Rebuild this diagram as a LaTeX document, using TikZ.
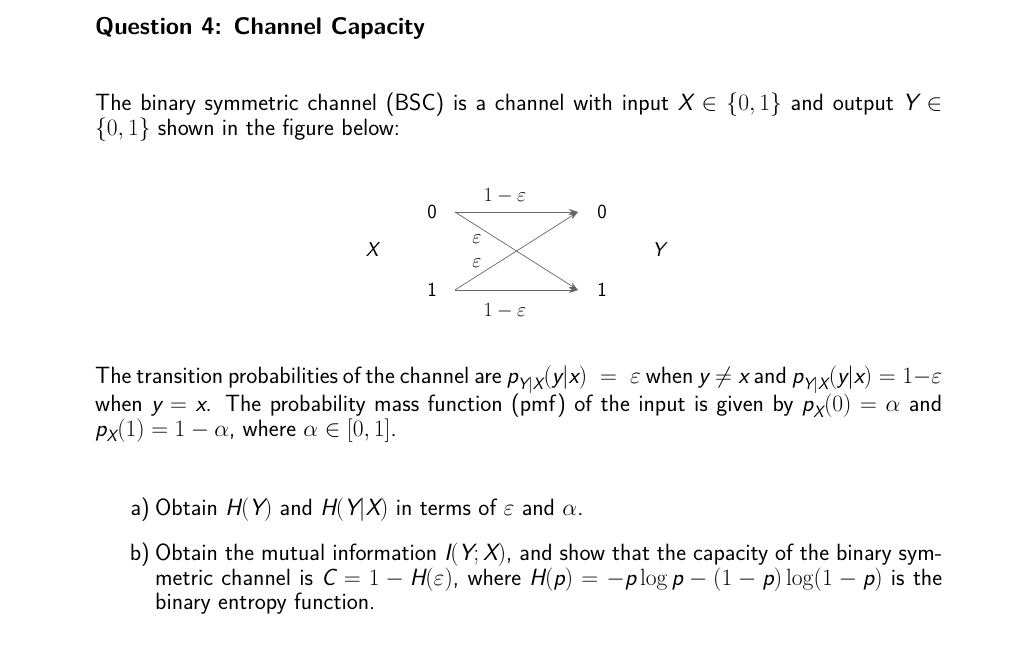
\RequirePackage{fix-cm}
\documentclass[tikz,border=0pt]{standalone}
\usepackage{amsmath}
\usetikzlibrary{arrows.meta}
\newcommand\mi[1]{\textit{#1}}
\begin{document}
\begin{tikzpicture}[x=1pt,y=-1pt,
  para/.style={anchor=north west,inner sep=0pt,align=justify,font=\sffamily\fontsize{23.5}{24.3}\selectfont},
  lbl/.style={inner sep=1pt,font=\sffamily\fontsize{20}{23}\selectfont},
  arr/.style={draw=black!60,line width=0.7pt,-{Stealth[length=9pt,width=6pt]}}]
\useasboundingbox (0,0) rectangle (1024,650);
\fill[white] (0,0) rectangle (1024,650);
\node[anchor=west,inner sep=0pt,font=\sffamily\bfseries\fontsize{24}{28}\selectfont] (title) at (95,28) {Question 4: Channel Capacity};
\node[para,text width=847pt] (p1) at (95,93) {The binary symmetric channel (BSC) is a channel with input $\mi{X}\in\{0,1\}$ and output $\mi{Y}\in\{0,1\}$ shown in the figure below:};
% diagram
\node[lbl] (x0) at (432,212) {0};
\node[lbl] (x1) at (432,290) {1};
\node[lbl] (y0) at (602,212) {0};
\node[lbl] (y1) at (602,290) {1};
\node[lbl] (X) at (373,250) {\mi{X}};
\node[lbl] (Y) at (660,250) {\mi{Y}};
\coordinate (a0) at (455,212); \coordinate (a1) at (455,290);
\coordinate (b0) at (578,212); \coordinate (b1) at (578,290);
\draw[arr] (a0) -- (b0);
\draw[arr] (a1) -- (b1);
\draw[arr] (a0) -- (b1);
\draw[arr] (a1) -- (b0);
\node[lbl] (t0) at (505,196) {$1-\varepsilon$};
\node[lbl] (t1) at (505,311) {$1-\varepsilon$};
\node[lbl] (e0) at (477,239) {$\varepsilon$};
\node[lbl] (e1) at (477,263) {$\varepsilon$};
\node[para,text width=847pt] (p2) at (95,366) {The transition probabilities of the channel are $\mi{p}_{\mi{Y}|\mi{X}}(\mi{y}|\mi{x})\;=\;\varepsilon$ when $\mi{y}\neq \mi{x}$ and $\mi{p}_{\mi{Y}|\mi{X}}(\mi{y}|\mi{x})=1-\varepsilon$ when $\mi{y}=\mi{x}$. The probability mass function (pmf) of the input is given by $\mi{p}_{\mi{X}}(0)=\alpha$ and $\mi{p}_{\mi{X}}(1)=1-\alpha$, where $\alpha\in[0,1]$.};
\node[para,anchor=north east] (la) at (150,498) {a)};
\node[para,text width=787pt] (ia) at (155,498) {Obtain $\mi{H}(\mi{Y})$ and $\mi{H}(\mi{Y}|\mi{X})$ in terms of $\varepsilon$ and $\alpha$.};
\node[para,anchor=north east] (lb) at (150,543) {b)};
\node[para,text width=787pt] (ib) at (155,543) {Obtain the mutual information $\mi{I}(\mi{Y};\mi{X})$, and show that the capacity of the binary symmetric channel is $\mi{C}=1-\mi{H}(\varepsilon)$, where $\mi{H}(\mi{p})=-\mi{p}\log \mi{p}-(1-\mi{p})\log(1-\mi{p})$ is the binary entropy function.};
\end{tikzpicture}
\end{document}
